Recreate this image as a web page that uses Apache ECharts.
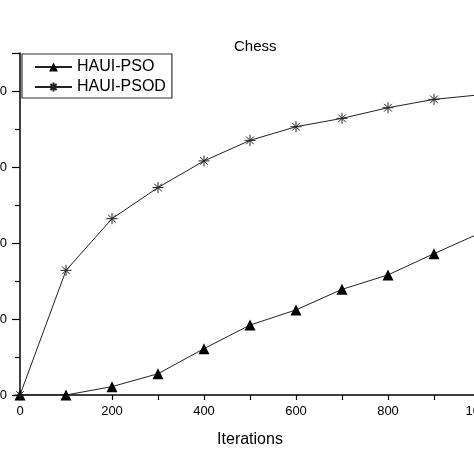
<!DOCTYPE html>
<html><head><meta charset="utf-8">
<script src="https://cdn.jsdelivr.net/npm/echarts@6/dist/echarts.min.js"></script>
<style>html,body{margin:0;padding:0;background:#fff}#c{width:474px;height:474px}</style>
</head><body><div id="c"></div>
<script>
const iterations = [0,100,200,300,400,500,600,700,800,900,1000];
const psoValues  = [0,0,1.1,2.8,6.1,9.2,11.2,13.9,15.8,18.6,21.3];
const psodValues = [0,16.4,23.2,27.3,30.8,33.5,35.3,36.4,37.8,38.9,39.5];
const seriesNames = ['HAUI-PSO','HAUI-PSOD'];
const xLabelStep = 200;
const yLabelStep = 10;

const font = 'Liberation Sans, Arial, sans-serif';
const star = 'path://M5,0L5,10M0,5L10,5M1.5,1.5L8.5,8.5M8.5,1.5L1.5,8.5';
const chart = echarts.init(document.getElementById('c'), null, {renderer:'canvas'});
chart.setOption({
  animation:false,
  backgroundColor:'#fff',
  title:{text:'Chess', left:229, top:34,
    textStyle:{fontFamily:font, fontSize:15, fontWeight:'normal', color:'#000'}},
  legend:{orient:'vertical', left:22, top:54, padding:[5,6,3,12], itemGap:4,
    itemWidth:37, itemHeight:11, borderColor:'#333', borderWidth:1.2,
    textStyle:{fontFamily:font, fontSize:16, color:'#000', padding:[0,0,0,0]},
    data:seriesNames},
  grid:{left:20, width:460, top:53, bottom:79, containLabel:false, outerBoundsMode:'none'},
  xAxis:{type:'value', min:0, max:1000, interval:100,
    name:'Iterations', nameLocation:'middle', nameGap:37,
    nameTextStyle:{fontFamily:font, fontSize:16, color:'#000'},
    axisLine:{lineStyle:{color:'#000', width:1.5}},
    axisTick:{inside:false, length:5, lineStyle:{color:'#000', width:1.2}},
    axisLabel:{fontFamily:font, fontSize:13, color:'#000', margin:10, hideOverlap:false,
      formatter:v => (v % xLabelStep === 0 ? String(v) : '')},
    splitLine:{show:false}},
  yAxis:{type:'value', min:0, max:45, interval:10,
    axisLine:{show:true, lineStyle:{color:'#000', width:1.5}},
    axisTick:{show:true, inside:false, length:8, lineStyle:{color:'#000', width:1.2}},
    minorTick:{show:true, splitNumber:2, length:5, lineStyle:{color:'#000', width:1.2}},
    axisLabel:{fontFamily:font, fontSize:13, color:'#000', margin:13,
      formatter:v => (v % yLabelStep === 0 ? String(v) : '')},
    splitLine:{show:false}},
  series:[
    {name:seriesNames[0], type:'line', data:iterations.map((x,i)=>[x,psoValues[i]]),
     symbol:'triangle', symbolSize:11, showAllSymbol:true,
     lineStyle:{color:'#222', width:1}, itemStyle:{color:'#000', borderWidth:0}},
    {name:seriesNames[1], type:'line', data:iterations.map((x,i)=>[x,psodValues[i]]),
     symbol:star, symbolSize:11, showAllSymbol:true,
     lineStyle:{color:'#222', width:1}, itemStyle:{color:'none', borderColor:'#222', borderWidth:1}}
  ]
});
</script></body></html>
